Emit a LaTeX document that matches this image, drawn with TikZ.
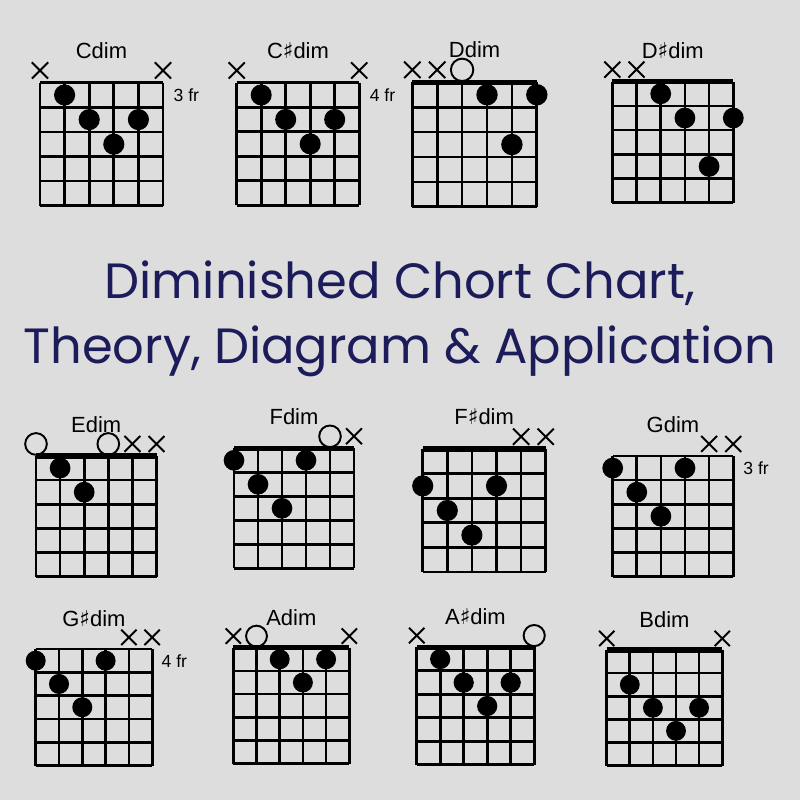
\documentclass[tikz,border=0pt]{standalone}
\usepackage{fontspec}
\setmainfont{Liberation Sans}
\newfontfamily\titlefont{Poppins}
\newfontfamily\sharpfont{DejaVu Sans}
\definecolor{boardbg}{RGB}{221,221,221}
\definecolor{titleblue}{RGB}{28,28,90}
\newcommand{\shp}{{\sharpfont ♯}}
\tikzset{
  fretline/.style={line width=1.5pt},
  nutline/.style={line width=3pt},
  fingerdot/.style={fill=black},
  mutemark/.style={line width=1.1pt},
  openmark/.style={line width=1.1pt},
  chordname/.style={font=\fontsize{12.5}{14}\selectfont},
  fretno/.style={font=\fontsize{10}{12}\selectfont},
  headline/.style={font=\titlefont\fontsize{28.2}{32}\selectfont, text=titleblue}
}
% #1 origin, #2 cell, #3 name, #4 label, #5 nut, #6 markers, #7 dots, #8 fret
\newcommand{\chordbox}[8]{%
  \begin{scope}[shift={#1}, scale=#2]
    \foreach \i in {0,...,5} {\draw[fretline] (\i,0) -- (\i,5); \draw[fretline] (0,\i) -- (5,\i);}
    \ifnum#5=1 \draw[nutline] (0,0) -- (5,0);\fi
    \node[chordname] (#3) at (2.5,-1.3) {#4};
    \foreach \s/\m in {#6} {%
      \if\m o\draw[openmark] (\s-1,-0.5) circle (0.45);%
      \else\draw[mutemark] (\s-1.33,-0.83) -- (\s-0.67,-0.17) (\s-1.33,-0.17) -- (\s-0.67,-0.83);\fi}
    \foreach \s/\f in {#7} \fill[fingerdot] (\s-1,\f-0.5) circle (0.43);
    \ifx\relax#8\relax\else\node[fretno] (#3fr) at (5.95,0.5) {#8};\fi
  \end{scope}}

\begin{document}
\begin{tikzpicture}[x=0.02cm, y=-0.02cm]
  \fill[boardbg] (0,0) rectangle (800,800);
  \useasboundingbox (0,0) rectangle (800,800);

  %%%%% TOP ROW %%%%%
  \chordbox{(40,82.7)}{24.6}{cdim}{Cdim}{0}{1/x,6/x}{2/1,3/2,5/2,4/3}{3 fr}
  \chordbox{(236.7,82.7)}{24.5}{csdim}{C\shp dim}{0}{1/x,6/x}{2/1,3/2,5/2,4/3}{4 fr}
  \chordbox{(412.3,82.3)}{24.9}{ddim}{Ddim}{1}{1/x,2/x,3/o}{4/1,6/1,5/3}{}
  \chordbox{(612.3,81.7)}{24.2}{dsdim}{D\shp dim}{1}{1/x,2/x}{3/1,4/2,6/2,5/4}{}

  %%%%% TITLE %%%%%
  \node[headline] (line1) at (400,283) {Diminished Chort Chart,};
  \node[headline] (line2) at (400,351) {Theory, Diagram \& Application};

  %%%%% MIDDLE ROW %%%%%
  \chordbox{(36,456)}{24.1}{edim}{Edim}{1}{1/o,4/o,5/x,6/x}{2/1,3/2}{}
  \chordbox{(234,448.3)}{24}{fdim}{Fdim}{1}{5/o,6/x}{1/1,4/1,2/2,3/3}{}
  \chordbox{(422.7,449)}{24.6}{fsdim}{F\shp dim}{1}{5/x,6/x}{1/2,4/2,2/3,3/4}{}
  \chordbox{(612.7,456)}{24.1}{gdim}{Gdim}{0}{5/x,6/x}{1/1,4/1,2/2,3/3}{3 fr}

  %%%%% BOTTOM ROW %%%%%
  \chordbox{(35.7,649)}{23.3}{gsdim}{G\shp dim}{0}{5/x,6/x}{1/1,4/1,2/2,3/3}{4 fr}
  \chordbox{(233.3,647.7)}{23.2}{adim}{Adim}{1}{1/x,2/o,6/x}{3/1,5/1,4/2}{}
  \chordbox{(416.7,647.3)}{23.5}{asdim}{A\shp dim}{1}{1/x,6/o}{2/1,3/2,5/2,4/3}{}
  \chordbox{(606.7,650)}{23.1}{bdim}{Bdim}{1}{1/x,6/x}{2/2,3/3,5/3,4/4}{}
\end{tikzpicture}
\end{document}
